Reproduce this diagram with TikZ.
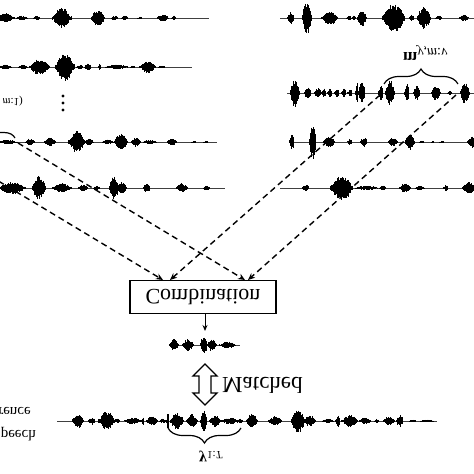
\documentclass[tikz,border=0pt]{standalone}
\usepackage{fontspec}
\setmainfont{Liberation Serif}
\usetikzlibrary{arrows.meta,decorations.pathreplacing}
\tikzset{
  baseln/.style={line width=0.8pt, black!75},
  burst/.style={line width=1pt, black},
  dashline/.style={dashed, dash pattern=on 6pt off 4pt, line width=1.4pt, -{Stealth[length=7pt,width=6pt]}},
  bracetop/.style={decorate, decoration={brace, amplitude=#1}, line width=1.2pt},
  combbox/.style={draw, line width=1.3pt, minimum width=146pt, minimum height=33pt, inner sep=0pt},
  txt/.style={inner sep=0pt}
}
\newcommand\wavef[4]{%
  \draw[baseln] (#2,#1) -- (#3,#1);
  \foreach \bc/\bw/\bh in {#4}{%
    \pgfmathsetmacro\ww{1.15*\bw}%
    \pgfmathsetmacro\xa{\bc-\ww}%
    \pgfmathsetmacro\xn{\bc-\ww+0.7}%
    \pgfmathsetmacro\xb{\bc+\ww}%
    \foreach \xx in {\xa,\xn,...,\xb}{%
      \pgfmathsetmacro\wt{(\xx-\bc)/\ww}%
      \pgfmathsetmacro\env{1.2*\bh*max(0.2,1-\wt*\wt)}%
      \pgfmathsetmacro\up{\env*(0.6+0.4*rnd)}%
      \pgfmathsetmacro\dn{\env*(0.6+0.4*rnd)}%
      \draw[burst] (\xx,#1-\up) -- (\xx,#1+\dn);
    }%
  }%
}
\newcommand\flip[1]{\scalebox{1}[-1]{#1}}
\begin{document}
\begin{tikzpicture}[x=1pt,y=-1pt]
\useasboundingbox (0,0) rectangle (474,474);
\clip (0,0) rectangle (474,474);
\pgfmathsetseed{7}
% left column
\wavef{18}{-5}{209}{5/8/4,22/5/2,37/3/2,62/8/9,98/6/7,115/3/2,125/3/2,140/2/1,163/5/3,174/2/2}
\wavef{67}{-5}{192}{5/6/2,23/4/2,40/9/7,65/8/12,80/3/2,88/3/3,100/1/3,117/10/2,133/2/1,148/7/5,162/3/1}
\wavef{142}{-5}{217}{8/8/2,30/4/3,50/5/4,77/7/9,89/4/3,108/5/2,121/6/7,136/4/4,150/6/2,172/4/3,194/2/1,206/2/1}
\wavef{188}{-5}{225}{12/12/5,39/6/10,62/8/4,83/4/3,97/3/2,114/4/11,122/4/5,147/3/4,182/5/4,207/3/2}
% right column
\wavef{18}{280}{480}{291/3/5,307/4/15,330/7/6,349/2/2,354/2/2,362/4/7,394/10/12,412/2/3,424/6/9,439/3/2,464/4/3}
\wavef{93}{287}{480}{295/4/12,308/3/5,318/3/4,324/2/4,330/2/4,337/2/4,344/2/4,350/2/3,357/1/10,362/3/9,381/2/7,390/4/11,407/2/8,417/3/6,436/4/6,450/2/2,465/4/9}
\wavef{142}{289}{480}{292/2/7,313/3/15,329/5/5,350/2/3,364/3/4,393/4/4,410/4/7,422/2/1,433/1/1,442/2/1,474/6/5}
\wavef{188}{280}{480}{306/3/3,342/10/10,367/10/2,383/3/2,405/5/4,420/4/2,446/2/3,469/6/5}
% combined
\wavef{345}{170}{240}{174/4/5,188/5/5,204/3/8,212/4/5,228/7/3}
% reference
\wavef{421}{57}{437}{78/5/6,92/3/3,107/7/8,117/3/2,133/7/3,143/1/4,152/5/4,163/3/2,168/1/8,177/6/7,192/5/6,204/3/9,215/5/5,230/7/3,240/3/2,252/5/6,275/6/4,298/6/10,310/5/5,328/5/2,338/2/5,350/7/5,365/5/3,377/2/2,389/5/4,400/3/5,413/3/1,427/6/1}
% vertical dots
\foreach \dy in {96,103,110} \fill (63,\dy) circle (1.6pt);
% braces
\draw[bracetop=11pt] (-60,138) -- (15,138);
\draw[bracetop=15pt] (384,84) -- (458,84);
\draw[bracetop=15pt] (241,428) -- (168,428);
% labels
\node[txt, anchor=east] (lbl1) at (23,101) {\flip{\fontsize{11}{11}\selectfont\textit{m}:1)}};
\node[txt, anchor=west] (lbl2) at (403,53) {\flip{\fontsize{17}{17}\selectfont\textbf{m}\raisebox{-4pt}{\fontsize{14}{14}\selectfont\textit{y},\textit{m}:\textit{v}}}};
\node[txt, anchor=west] (lbl3) at (199,456) {\flip{\fontsize{16}{16}\selectfont\textbf{y}\raisebox{-3pt}{\fontsize{11}{11}\selectfont 1:\textit{T}}}};
\node[txt, anchor=east] (ref1) at (31,413) {\flip{\fontsize{15}{15}\selectfont Reference}};
\node[txt, anchor=east] (ref2) at (36,434) {\flip{\fontsize{15}{15}\selectfont speech}};
% combination box
\node[combbox] (comb) at (203,297) {\flip{\fontsize{22}{22}\selectfont Combination}};
% dashed connectors
\coordinate (sA) at (18,143);
\coordinate (sB) at (-10,176);
\coordinate (sC) at (380,95);
\coordinate (sD) at (456,95);
\coordinate (tA) at (245,280);
\coordinate (tB) at (163,280);
\coordinate (tC) at (170,280);
\coordinate (tD) at (248,280);
\draw[dashline] (sA) -- (tA);
\draw[dashline] (sB) -- (tB);
\draw[dashline] (sC) -- (tC);
\draw[dashline] (sD) -- (tD);
% arrow to combined wave
\coordinate (cw) at (205,331);
\draw[line width=1pt, -{Stealth[length=6pt,width=5pt]}] (comb.south -| cw) -- (cw);
% matched double arrow
\draw[line width=1.3pt, line join=miter] (205,364) -- (217,376) -- (211,376) -- (211,393) -- (217,393) -- (205,405) -- (193,393) -- (199,393) -- (199,376) -- (193,376) -- cycle;
\node[txt, anchor=west] (match) at (222,385) {\flip{\fontsize{23}{23}\selectfont Matched}};
\end{tikzpicture}
\end{document}
